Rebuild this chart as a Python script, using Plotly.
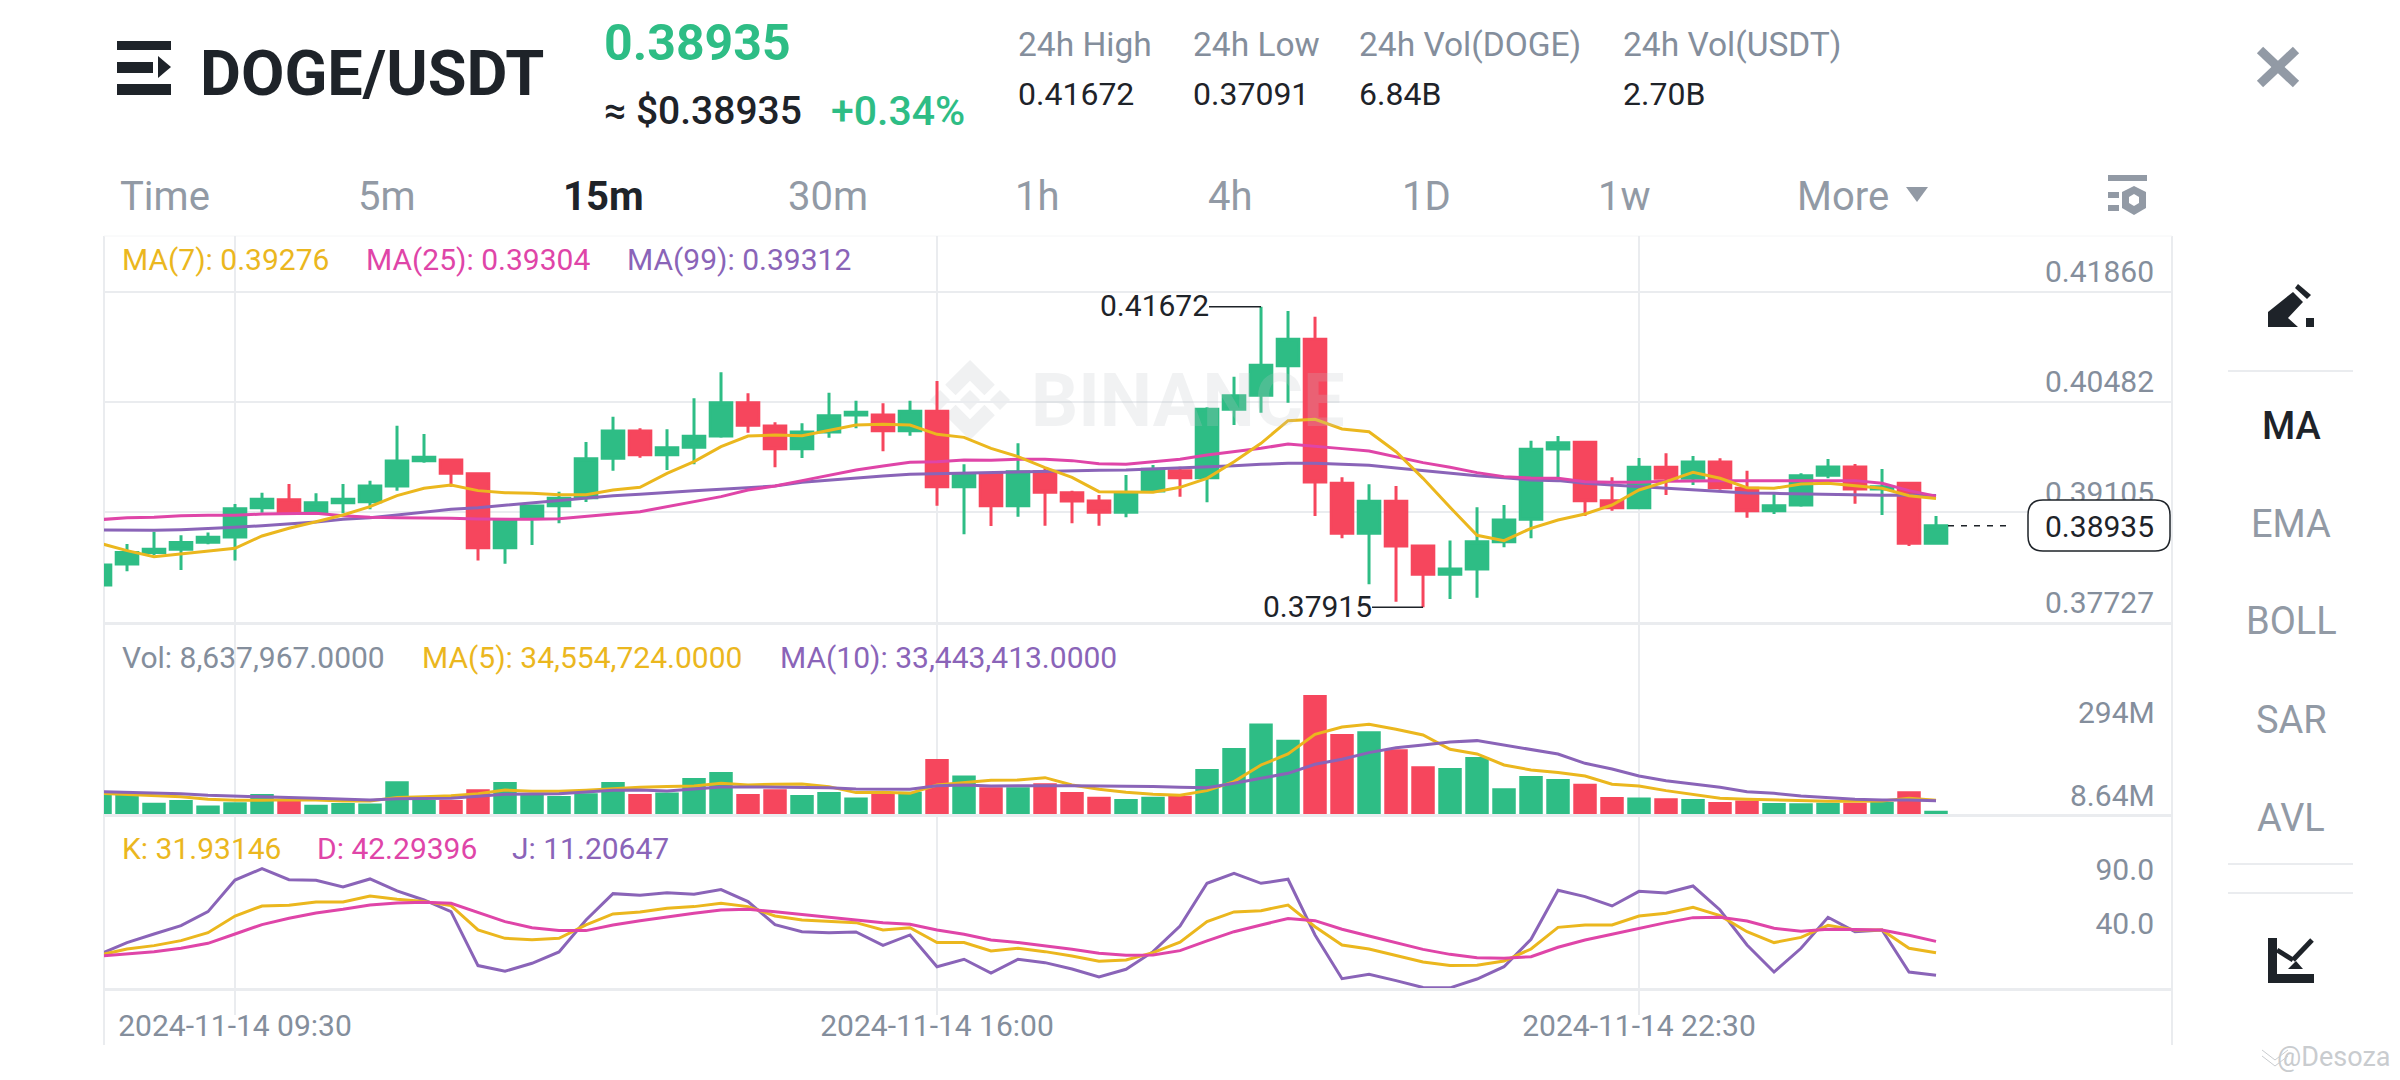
import pandas as pd
import plotly.graph_objects as go

GREEN, RED = "#2EBD85", "#F6465D"
YEL, MAG, PUR = "#EBB71E", "#DF45A8", "#8A64B8"
GRAY, DARK, GRID = "#848E9C", "#1E2329", "#EAECEF"
FONT = "Roboto"

times = [t.strftime("%Y-%m-%d %H:%M") for t in pd.date_range("2024-11-14 08:15", periods=69, freq="15min")]

opens = [.38193,.38456,.38598,.38639,.38727,.38793,.39160,.39260,.39098,.39223,.39235,.39431,.39748,.39756,.39585,.38660,.39027,.39185,.39285,.39777,.40118,.39823,.39914,.40056,.40473,.40181,
         .39898,.40106,.40318,.40318,.40123,.40364,.39423,.39577,.39185,.39610,.39348,.39243,.39102,.39368,.39623,.39535,.40389,.40564,.40935,.41264,.39464,.38839,.39239,.38681,.38327,
         .38393,.38735,.39014,.39893,.39977,.39248,.39160,.39664,.39527,.39731,.39402,.39123,.39193,.39564,.39668,.39393,.39464,.38714]
highs = [.38443,.38706,.38860,.38814,.38848,.39206,.39348,.39456,.39339,.39456,.39498,.40185,.40081,.39773,.39585,.39006,.39181,.39360,.39981,.40298,.40152,.40139,.40527,.40852,.40589,.40227,
         .40214,.40598,.40498,.40464,.40498,.40743,.39702,.39577,.39964,.39652,.39373,.39318,.39568,.39693,.39673,.40414,.40798,.41672,.41618,.41548,.39539,.39452,.39431,.38693,.38748,
         .39164,.39193,.39998,.40056,.39977,.39539,.39781,.39839,.39806,.39777,.39623,.39339,.39589,.39768,.39706,.39643,.39464,.39056]
lows = [.38193,.38364,.38568,.38381,.38702,.38498,.39098,.39089,.39089,.39089,.39139,.39373,.39723,.39423,.38498,.38460,.38693,.38964,.39231,.39623,.39785,.39631,.39702,.40035,.40098,.39664,
        .39781,.40035,.40152,.39864,.40060,.39185,.38827,.38931,.39048,.38935,.38964,.38935,.39039,.39348,.39298,.39227,.40193,.40348,.40473,.39056,.38777,.38202,.37985,.37915,.38018,
        .38035,.38664,.38777,.39527,.39056,.39123,.39148,.39318,.39443,.39385,.39035,.39081,.39173,.39527,.39210,.39068,.38681,.38702]
closes = [.38443,.38598,.38639,.38723,.38789,.39148,.39264,.39098,.39223,.39264,.39431,.39743,.39789,.39589,.38660,.39006,.39181,.39277,.39773,.40118,.39823,.39910,.40052,.40473,.40189,.39898,
          .40106,.40310,.40352,.40123,.40364,.39423,.39577,.39185,.39610,.39352,.39243,.39102,.39339,.39639,.39535,.40389,.40560,.40939,.41264,.39481,.38839,.39239,.38681,.38327,.38393,
          .38735,.39006,.39889,.39973,.39248,.39160,.39664,.39527,.39731,.39410,.39123,.39185,.39560,.39668,.39393,.39423,.38714,.38935]

ma7 = [.38714,.38623,.38548,.38581,.38610,.38652,.38806,.38902,.38985,.39068,.39173,.39310,.39402,.39443,.39373,.39348,.39339,.39323,.39323,.39381,.39414,.39589,.39735,.39923,.40056,.40068,
       .40060,.40131,.40193,.40202,.40193,.40077,.40039,.39902,.39798,.39660,.39539,.39360,.39352,.39352,.39414,.39527,.39735,.39964,.40248,.40264,.40143,.40110,.39860,.39527,.39164,
       .38814,.38748,.38902,.39006,.39081,.39193,.39381,.39485,.39602,.39527,.39410,.39402,.39456,.39464,.39435,.39402,.39310,.39276]
ma25 = [.39010,.39035,.39039,.39060,.39064,.39064,.39081,.39089,.39089,.39060,.39039,.39035,.39035,.39027,.39018,.39014,.39014,.39023,.39048,.39081,.39110,.39173,.39231,.39298,.39381,.39431,
        .39498,.39568,.39631,.39681,.39727,.39735,.39756,.39752,.39764,.39764,.39748,.39710,.39702,.39735,.39764,.39818,.39860,.39902,.39956,.39931,.39898,.39868,.39798,.39723,.39664,
        .39598,.39548,.39531,.39527,.39485,.39477,.39477,.39489,.39498,.39498,.39498,.39498,.39506,.39506,.39498,.39464,.39373,.39304]
ma99 = [.38881,.38877,.38877,.38885,.38898,.38914,.38935,.38956,.38981,.39014,.39035,.39068,.39102,.39139,.39160,.39189,.39218,.39252,.39285,.39310,.39327,.39352,.39373,.39389,.39410,.39431,
        .39477,.39506,.39531,.39556,.39577,.39585,.39593,.39602,.39606,.39614,.39623,.39627,.39631,.39643,.39656,.39668,.39685,.39702,.39714,.39714,.39706,.39689,.39656,.39623,.39589,
        .39560,.39535,.39506,.39498,.39464,.39443,.39423,.39402,.39381,.39360,.39343,.39339,.39331,.39323,.39314,.39314,.39318,.39312]

volume = [47.6,47.6,28.7,35.3,21.4,29.6,50.1,32.8,23.8,27.9,26.3,81.3,35.3,35.3,61.6,79.7,51.7,45.2,51.7,79.7,50.1,53.4,89.5,104.3,50.1,61.6,47.6,55.0,41.1,51.7,55.8,136.3,95.3,66.5,66.5,76.4,55.0,43.5,37.8,
          43.5,46.0,111.7,163.4,223.4,183.9,294.0,197.9,204.5,160.1,118.3,114.1,141.2,64.1,94.4,87.0,75.5,42.7,41.1,39.4,37.8,30.4,33.7,27.9,27.1,28.7,28.7,30.4,56.7,8.64]
vol_ma5 = [51.7,49.3,45.2,43.5,37.0,34.5,34.5,36.1,35.3,32.8,32.8,41.1,43.5,46.0,50.9,59.9,56.7,56.7,59.1,63.2,66.5,68.2,69.8,76.4,72.3,73.9,74.7,68.2,53.4,54.2,51.7,72.3,78.8,83.8,84.6,90.3,72.3,61.6,54.2,
           49.3,46.8,58.3,80.5,121.5,148.6,197.1,215.2,221.7,209.4,195.4,160.1,148.6,121.5,109.2,102.7,94.4,73.9,69.8,58.3,49.3,39.4,37.0,35.3,32.8,32.0,32.0,32.8,39.4,34.55]
vol_ma10 = [55.8,54.2,51.7,50.9,46.8,44.3,43.5,41.1,39.4,37.8,35.3,38.6,39.4,39.4,44.3,49.3,50.1,50.9,55.0,59.1,59.9,57.5,62.4,67.3,67.3,67.3,66.5,65.7,62.4,61.6,61.6,70.6,72.3,69.8,70.6,71.4,70.6,69.8,69.8,
            68.2,66.5,65.7,76.4,88.7,101.0,123.2,135.5,151.9,164.2,170.8,178.2,181.5,170.8,158.5,148.6,125.6,111.7,94.4,82.9,74.7,66.5,55.8,51.7,45.2,40.2,37.0,35.3,35.3,33.44]

k_line = [29.8,35.3,38.4,43.0,50.3,65.6,74.8,75.4,78.5,78.5,84.0,80.9,78.8,75.1,52.8,45.1,43.9,45.1,57.4,67.5,69.3,72.7,74.2,77.2,74.2,65.6,61.9,60.4,59.5,52.8,54.9,41.2,41.2,33.5,36.0,32.9,28.9,24.0,25.3,
          32.0,41.5,60.4,69.3,70.5,75.7,55.8,39.0,35.3,29.2,23.4,20.1,20.4,24.3,35.3,55.2,57.4,57.4,65.6,68.1,73.6,65.9,51.2,41.2,46.0,57.1,52.8,52.8,36.0,31.93]
d_line = [28.9,30.8,32.9,36.0,40.5,49.1,57.7,63.5,68.4,71.7,75.7,77.5,78.2,77.2,68.7,60.4,54.9,52.2,52.2,57.4,61.3,65.0,68.1,71.1,71.7,69.6,67.1,65.0,62.6,59.5,58.0,52.8,48.8,43.6,41.2,38.4,35.0,31.4,29.5,
          29.8,33.8,42.7,51.2,57.4,63.2,61.3,53.4,47.3,41.2,35.0,30.4,27.4,26.8,28.3,36.9,43.6,48.8,54.3,59.5,64.1,64.4,61.0,54.3,51.5,53.4,53.1,52.8,47.9,42.29]
j_line = [30.8,41.2,49.1,56.7,69.6,98.6,109.0,98.9,98.3,92.2,99.6,88.6,80.3,69.6,20.1,14.9,22.2,32.6,61.9,86.1,84.6,87.0,85.5,89.8,78.8,57.7,51.2,50.3,50.9,38.7,48.2,19.1,25.9,13.3,25.9,22.8,17.0,9.7,16.7,
          32.9,56.4,95.6,104.8,95.6,99.3,48.2,8.1,12.1,6.3,0.0,-0.3,7.8,19.1,44.2,89.2,83.4,74.8,88.2,86.7,93.1,71.1,39.0,14.2,36.0,64.4,51.2,52.8,14.2,11.21]

for series in (opens, highs, lows, closes, ma7, ma25, ma99, volume, vol_ma5, vol_ma10, k_line, d_line, j_line):
    assert len(series) == 69, len(series)

price_ticks = [0.41860, 0.40482, 0.39105, 0.37727]
kdj_ticks = [90.0, 40.0]
date_ticks = ["2024-11-14 09:30", "2024-11-14 16:00", "2024-11-14 22:30"]
x_range = ["2024-11-14 08:17:13", "2024-11-15 03:26:06"]

W, H = 2400, 1080
xp = lambda x: x / W
yp = lambda y: 1 - y / H


def poly(points, fill=DARK, layer="above"):
    d = "M " + " L ".join(f"{xp(x):.5f},{yp(y):.5f}" for x, y in points) + " Z"
    return dict(type="path", xref="paper", yref="paper", path=d, fillcolor=fill, line=dict(width=0), layer=layer)


def seg(x0, y0, x1, y1, color=GRID, width=2, layer="below"):
    return dict(type="line", xref="paper", yref="paper", x0=xp(x0), y0=yp(y0), x1=xp(x1), y1=yp(y1),
                line=dict(color=color, width=width), layer=layer)


def rect(x0, y0, x1, y1, fill=DARK):
    return dict(type="rect", xref="paper", yref="paper", x0=xp(x0), y0=yp(y0), x1=xp(x1), y1=yp(y1),
                fillcolor=fill, line=dict(width=0), layer="above")


def txt(s, x, y, size, color=GRAY, anchor="left", weight=400, family=FONT):
    return dict(text=s, x=xp(x), y=yp(y), xref="paper", yref="paper", xanchor=anchor, yanchor="middle",
                showarrow=False, borderpad=0, borderwidth=0,
                font=dict(family=family, size=size, color=color, weight=weight))


fig = go.Figure()
fig.add_trace(go.Candlestick(
    x=times, open=opens, high=highs, low=lows, close=closes, xaxis="x", yaxis="y", whiskerwidth=0,
    increasing=dict(line=dict(color=GREEN, width=3), fillcolor=GREEN),
    decreasing=dict(line=dict(color=RED, width=3), fillcolor=RED), hoverinfo="skip"))
for vals, col in ((ma99, PUR), (ma25, MAG), (ma7, YEL)):
    fig.add_trace(go.Scatter(x=times, y=vals, mode="lines", line=dict(color=col, width=3), xaxis="x", yaxis="y", hoverinfo="skip"))
fig.add_trace(go.Bar(x=times, y=volume, marker=dict(color=[GREEN if c >= o else RED for o, c in zip(opens, closes)], line=dict(width=0)),
                     xaxis="x2", yaxis="y2", hoverinfo="skip"))
for vals, col in ((vol_ma5, YEL), (vol_ma10, PUR)):
    fig.add_trace(go.Scatter(x=times, y=vals, mode="lines", line=dict(color=col, width=3), xaxis="x2", yaxis="y2", hoverinfo="skip"))
for vals, col in ((j_line, PUR), (k_line, YEL), (d_line, MAG)):
    fig.add_trace(go.Scatter(x=times, y=vals, mode="lines", line=dict(color=col, width=3), xaxis="x3", yaxis="y3", hoverinfo="skip"))

x_common = dict(domain=[xp(104), xp(2172)], range=x_range, type="date", tickmode="array", tickvals=date_ticks,
                showgrid=True, gridcolor=GRID, gridwidth=2, zeroline=False, showline=True, linecolor=GRID,
                linewidth=3, fixedrange=True, rangeslider=dict(visible=False), ticks="", showticklabels=False)
shapes = [seg(104, 236, 104, 1045), seg(2172, 236, 2172, 1045), seg(104, 236, 2172, 236, "#F5F6F7", 1)]

# last price guide and high/low leaders
shapes.append(dict(type="line", xref="paper", yref="y", x0=xp(1948), x1=xp(2010), y0=closes[-1], y1=closes[-1],
                   line=dict(color=DARK, width=1.5, dash="6px,7px"), layer="above"))
shapes.append(dict(type="line", xref="x", yref="y", xsizemode="pixel", xanchor=times[43], x0=-52, x1=0,
                   y0=highs[43], y1=highs[43], line=dict(color=DARK, width=1.5), layer="above"))
shapes.append(dict(type="line", xref="x", yref="y", xsizemode="pixel", xanchor=times[49], x0=-51, x1=0,
                   y0=lows[49], y1=lows[49], line=dict(color=DARK, width=1.5), layer="above"))

# rounded price box
bx0, by0, bx1, by1, r = 2028, 500, 2170, 551, 15
box = (f"M {xp(bx0+r):.5f},{yp(by0):.5f} L {xp(bx1-r):.5f},{yp(by0):.5f} Q {xp(bx1):.5f},{yp(by0):.5f} {xp(bx1):.5f},{yp(by0+r):.5f} "
       f"L {xp(bx1):.5f},{yp(by1-r):.5f} Q {xp(bx1):.5f},{yp(by1):.5f} {xp(bx1-r):.5f},{yp(by1):.5f} "
       f"L {xp(bx0+r):.5f},{yp(by1):.5f} Q {xp(bx0):.5f},{yp(by1):.5f} {xp(bx0):.5f},{yp(by1-r):.5f} "
       f"L {xp(bx0):.5f},{yp(by0+r):.5f} Q {xp(bx0):.5f},{yp(by0):.5f} {xp(bx0+r):.5f},{yp(by0):.5f} Z")
shapes.append(dict(type="path", xref="paper", yref="paper", path=box, fillcolor="white", line=dict(color=DARK, width=1.5), layer="above"))

# Binance watermark logo
cx, cy, s = 970, 400, 40
wm = "#F0F1F2"
for ddx, ddy in ((0, 0), (-.75, 0), (.75, 0)):
    shapes.append(poly([(cx + (ddx + a) * s, cy + (ddy + b) * s) for a, b in ((0, -.25), (.25, 0), (0, .25), (-.25, 0))], wm, "below"))
for sign in (1, -1):
    shapes.append(poly([(cx + a * s, cy + sign * b * s) for a, b in ((0, -1), (.62, -.38), (.36, -.12), (0, -.48), (-.36, -.12), (-.62, -.38))], wm, "below"))

# header logo
shapes += [rect(117, 41, 171, 50), rect(117, 62, 153, 73), rect(117, 84, 171, 95), poly([(158, 56), (171, 67), (158, 78)])]
# close cross
shapes += [seg(2260, 50, 2296, 84, "#929AA5", 9, "above"), seg(2296, 50, 2260, 84, "#929AA5", 9, "above")]
# More triangle
shapes.append(poly([(1906, 187), (1928, 187), (1917, 202)], "#929AA5"))
# settings icon
ic = "#929AA5"
shapes += [rect(2108, 175, 2147, 181, ic), rect(2108, 192, 2119, 198, ic), rect(2108, 205, 2119, 211, ic),
           poly([(2134, 186), (2146, 192), (2146, 208), (2134, 215), (2122, 208), (2122, 192)], ic),
           poly([(2134, 194), (2139, 197), (2139, 203), (2134, 206), (2129, 203), (2129, 197)], "white")]
# side panel icons and separators
shapes += [poly([(2268, 327), (2268, 312), (2293, 292), (2303, 302), (2288, 318), (2298, 327)]),
           poly([(2298, 284), (2311, 295), (2307, 299), (2295, 288)]), rect(2306, 318, 2314, 327),
           seg(2228, 371, 2353, 371), seg(2228, 864, 2353, 864), seg(2228, 893, 2353, 893),
           rect(2268, 938, 2277, 983), rect(2268, 974, 2314, 983), poly([(2288, 969), (2296, 961), (2303, 969)]),
           seg(2277, 950, 2293, 960, DARK, 5, "above"), seg(2293, 960, 2312, 940, DARK, 5, "above")]
# footer mark
for off in (0, 6):
    shapes.append(dict(type="path", xref="paper", yref="paper", line=dict(color="#C9CCCF", width=1), layer="above",
                       path=f"M {xp(2262):.5f},{yp(1050+off):.5f} L {xp(2275):.5f},{yp(1060+off):.5f} L {xp(2288):.5f},{yp(1050+off):.5f}"))

ann = [
    txt("DOGE/USDT", 200, 73, 63, DARK, weight=700),
    txt("0.38935", 604, 43, 50, GREEN, weight=700),
    txt("≈ $0.38935", 604, 111, 39, DARK, weight=500),
    txt("+0.34%", 831, 111, 41, GREEN, weight=500),
]
for label, val, x in (("24h High", "0.41672", 1018), ("24h Low", "0.37091", 1193), ("24h Vol(DOGE)", "6.84B", 1359), ("24h Vol(USDT)", "2.70B", 1623)):
    ann += [txt(label, x, 45, 33.5), txt(val, x, 94, 32, DARK)]
for label, x in (("Time", 120), ("5m", 358), ("30m", 788), ("1h", 1015), ("4h", 1208), ("1D", 1402), ("1w", 1598), ("More", 1797)):
    ann.append(txt(label, x, 197, 40, "#929AA5"))
ann.append(txt("15m", 563, 197, 40, DARK, weight=700))
for s_, x, c in (("MA(7): 0.39276", 122, YEL), ("MA(25): 0.39304", 366, MAG), ("MA(99): 0.39312", 627, PUR)):
    ann.append(txt(s_, x, 260, 30, c))
for s_, x, c in (("Vol: 8,637,967.0000", 122, GRAY), ("MA(5): 34,554,724.0000", 422, YEL), ("MA(10): 33,443,413.0000", 780, PUR)):
    ann.append(txt(s_, x, 657, 30, c))
for s_, x, c in (("K: 31.93146", 122, YEL), ("D: 42.29396", 317, MAG), ("J: 11.20647", 512, PUR)):
    ann.append(txt(s_, x, 848, 30, c))
ann += [
    txt("0.38935", 2099, 526, 30, DARK, "center"),
    txt("0.41672", 1209, 305, 30, DARK, "right"),
    txt("0.37915", 1372, 606, 30, DARK, "right"),
    txt("294M", 2155, 712, 30, GRAY, "right"),
    txt("8.64M", 2155, 795, 30, GRAY, "right"),
    txt("BINANCE", 1188, 400, 74, "rgba(190,195,200,0.22)", "center", 700),
    txt("MA", 2291, 426, 38, DARK, "center", 500),
    txt("EMA", 2291, 524, 38, "#929AA5", "center"),
    txt("BOLL", 2291, 621, 38, "#929AA5", "center"),
    txt("SAR", 2291, 720, 38, "#929AA5", "center"),
    txt("AVL", 2291, 818, 38, "#929AA5", "center"),
    txt("@Desoza", 2390, 1057, 27, "#C9CCCF", "right"),
]

fig.update_layout(
    width=W, height=H, margin=dict(l=0, r=0, t=0, b=0), paper_bgcolor="white", plot_bgcolor="rgba(0,0,0,0)",
    showlegend=False, boxgap=0.2, boxgroupgap=0, bargap=0.13, hovermode=False, shapes=shapes, annotations=ann,
    font=dict(family=FONT, color=GRAY),
    xaxis=dict(**x_common, anchor="y"),
    xaxis2=dict(**x_common, anchor="y2"),
    xaxis3={**x_common, "anchor": "y3", "showticklabels": True, "ticks": "outside", "ticklen": 24, "tickwidth": 2,
            "tickcolor": GRID, "ticktext": date_ticks, "ticklabelstandoff": -15, "tickfont": dict(size=30, color=GRAY, family=FONT)},
    yaxis=dict(domain=[yp(622.3), yp(236)], range=[0.37727, 0.42556], anchor="x", side="right", tickmode="array",
               tickvals=price_ticks, ticktext=[f"{v:.5f}" for v in price_ticks], ticklabelposition="inside",
               ticklabelstandoff=15, ticklabelshift=-20, tickfont=dict(size=30, color=GRAY, family=FONT),
               showgrid=True, gridcolor=GRID, gridwidth=2, zeroline=False, fixedrange=True, ticks=""),
    yaxis2=dict(domain=[yp(814.3), yp(622.3)], range=[0, 473], anchor="x2", side="right", showticklabels=False,
                showgrid=False, zeroline=False, fixedrange=True, ticks=""),
    yaxis3=dict(domain=[yp(988), yp(814.3)], range=[-0.46, 158.9], anchor="x3", side="right", tickmode="array",
                tickvals=kdj_ticks, ticktext=[f"{v:.1f}" for v in kdj_ticks], ticklabelposition="inside",
                ticklabelstandoff=15, ticklabelshift=-20, tickfont=dict(size=30, color=GRAY, family=FONT),
                showgrid=False, zeroline=False, fixedrange=True, ticks=""),
)

fig.write_html("out.html", config=dict(displayModeBar=False, staticPlot=True),
               post_script='document.body.style.margin="0";document.body.style.overflow="hidden";')
